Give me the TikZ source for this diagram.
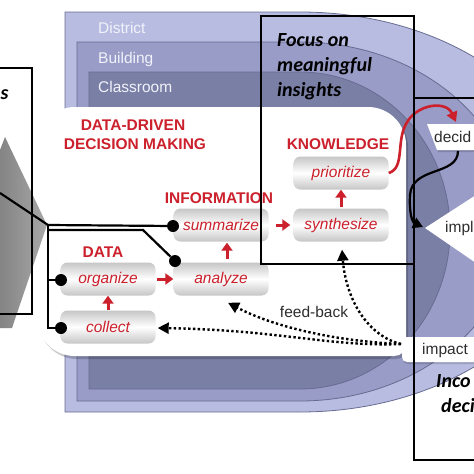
\documentclass[tikz,border=0pt]{standalone}
\usepackage{fontspec}
\setmainfont{Liberation Sans}
\newfontfamily\annotfont{Carlito}
\usetikzlibrary{arrows.meta,calc}
\definecolor{dddred}{RGB}{204,32,44}
\definecolor{district}{RGB}{184,188,224}
\definecolor{building}{RGB}{152,156,198}
\definecolor{classroom}{RGB}{122,127,165}
\definecolor{bandedge}{RGB}{104,108,146}
\definecolor{bandtext}{RGB}{242,242,250}
\definecolor{pillgray}{RGB}{198,198,198}
\definecolor{arrowdark}{RGB}{132,132,132}
\definecolor{arrowlight}{RGB}{168,168,168}
\definecolor{fbgray}{RGB}{45,45,45}
\begin{document}
\begin{tikzpicture}[x=1pt,y=-1pt,
  pill/.style={rounded corners=7pt, minimum width=95pt, minimum height=33pt,
    top color=pillgray, bottom color=pillgray, middle color=white, inner sep=0pt,
    text=dddred, font=\fontsize{15.5}{18}\selectfont\itshape},
  head/.style={text=dddred, font=\fontsize{15.5}{18}\selectfont\bfseries, inner sep=0pt, anchor=base},
  bandlabel/.style={text=bandtext, font=\fontsize{15.5}{18}\selectfont, inner sep=0pt, anchor=base west},
  boxtext/.style={text=fbgray, font=\fontsize{15.5}{18}\selectfont, inner sep=0pt, anchor=base west},
  annot/.style={font=\annotfont\fontsize{20}{25}\selectfont\bfseries\itshape, inner sep=0pt, anchor=base west},
  dot/.style={circle, fill=black, inner sep=0pt, minimum size=12pt},
  link/.style={line width=2.2pt, draw=black},
  redarr/.style={draw=dddred, line width=3pt, -{Triangle[width=11pt,length=8pt]}},
  fb/.style={draw=black, line width=2.4pt, dash pattern=on 2.4pt off 2.4pt, -{Triangle[width=11pt,length=11pt]}},
  frame/.style={draw=black, line width=1.6pt},
  band/.style={draw=bandedge, line width=0.8pt},
]
\useasboundingbox (0,0) rectangle (474,474);
\fill[white] (0,0) rectangle (474,474);
\clip (0,0) rectangle (474,474);

% nested bands
\path[band, fill=district] (65,12) -- (300,12) .. controls (452,12) and (575,101.5) .. (575,212)
  .. controls (575,322.5) and (452,412) .. (300,412) -- (65,412) -- cycle;
\path[band, fill=building] (77,42) -- (300,42) .. controls (418.7,42) and (515,122.4) .. (515,221.5)
  .. controls (515,320.6) and (418.7,401) .. (300,401) -- (77,401) -- cycle;
\path[band, fill=classroom] (89,72) -- (300,72) .. controls (382.8,72) and (450,143) .. (450,230.5)
  .. controls (450,318) and (382.8,389) .. (300,389) -- (89,389) -- cycle;
\node[bandlabel] (district) at (98,33) {District};
\node[bandlabel] (building) at (98,63) {Building};
\node[bandlabel] (classroom) at (98,92) {Classroom};

% white panel with shadow
\def\ddpanelpath{(37,145) .. controls (37,124) and (54,107) .. (75,107) -- (368,107)
  .. controls (389,107) and (406,124) .. (406,145) -- (406,344)
  .. controls (406,351) and (401,356) .. (394,356) -- (75,356)
  .. controls (54,356) and (37,339) .. (37,318) -- cycle}
\fill[black, opacity=0.2, xshift=2pt, yshift=-3pt] \ddpanelpath;
\fill[white] \ddpanelpath;

% right-hand step shapes
\fill[black, opacity=0.15, xshift=1pt, yshift=-2pt] (427,124) -- (480,124) -- (480,150) -- (437,150) -- cycle;
\fill[white] (427,124) -- (480,124) -- (480,150) -- (437,150) -- cycle;
\fill[white] (425,228) -- (476,195) -- (480,195) -- (480,263) -- (476,263) -- cycle;
\fill[black, opacity=0.15, rounded corners=5pt, xshift=1pt, yshift=-2pt] (402,337) rectangle (485,362);
\fill[white, rounded corners=5pt] (402,337) rectangle (485,362);
\node[boxtext] (decide) at (434,142) {decid};
\node[boxtext] (impl) at (445,232) {impl};
\node[boxtext] (impact) at (422,354) {impact};
\coordinate (decidein) at (456,122);
\coordinate (decideout) at (458,151);
\coordinate (implin) at (423,227);
\coordinate (impactL) at (401,344);

% headings
\node[head] (ddd1) at (133,130) {DATA-DRIVEN};
\node[head] (ddd2) at (135,149) {DECISION MAKING};
\node[head] (know) at (338,149) {KNOWLEDGE};
\node[head] (info) at (219,203) {INFORMATION};
\node[head] (data) at (103,257) {DATA};

% pills
\node[pill] (prioritize) at (341,173) {prioritize};
\node[pill] (synthesize) at (341,225) {synthesize};
\node[pill] (summarize) at (221,225) {summarize};
\node[pill] (analyze) at (221,279) {analyze};
\node[pill] (organize) at (108,279) {organize};
\node[pill] (collect) at (108,327) {collect};

% red arrows
\draw[redarr] (collect.north) -- (organize.south);
\draw[redarr, shorten <=1pt] (organize.east) -- (analyze.west);
\draw[redarr, shorten <=3pt, shorten >=1pt] ($(analyze.north)+(6,0)$) -- ($(summarize.south)+(6,0)$);
\draw[redarr, shorten <=7pt, shorten >=3pt] (summarize.east) -- (synthesize.west);
\draw[redarr, shorten <=1pt] (synthesize.north) -- (prioritize.south);

% big gray arrow at left
\shade[left color=arrowdark, right color=arrowlight] (0,150) -- (5,137) -- (47,225) -- (12,328) -- (0,328) -- cycle;

% black links with dots
\node[dot] (dsum) at (173,226) {};
\node[dot] (dana) at (175,261) {};
\node[dot] (dorg) at (61,280) {};
\node[dot] (dcol) at (61,328) {};
\coordinate (jin) at (0,193);
\coordinate (j) at (48,225);
\coordinate (j2) at (48,230);
\coordinate (bend) at (143,230);
\coordinate (vorg) at (48,280);
\coordinate (vcol) at (48,328);
\draw[link] (jin) -- (j) -- (dsum);
\draw[link] (j2) -- (bend) -- (dana);
\draw[link] (j) -- (vcol) -- (dcol);
\draw[link] (vorg) -- (dorg);

% feed-back dotted arrows
\draw[fb] (impactL) .. controls (368,336) and (346,300) .. ($(synthesize.south)+(1,8)$);
\draw[fb] (impactL) .. controls (330,341) and (270,325) .. ($(analyze.south)+(7,7)$);
\draw[fb] (impactL) .. controls (330,347) and (280,330) .. ($(collect.east)+(2,1)$);
\node[boxtext, anchor=base] (feedback) at (314,317) {feed-back};

% curved arrows on the right
\draw[draw=dddred, line width=2.6pt, -{Triangle[width=11pt,length=10pt]}]
  (prioritize.east) .. controls (405,168) and (396,142) .. (406,124)
  .. controls (416,104) and (446,100) .. (decidein);
\draw[draw=black, line width=2.2pt, -{Triangle[width=11pt,length=10pt]}]
  (decideout) .. controls (458,176) and (412,166) .. (410,195)
  .. controls (409,212) and (412,222) .. (implin);

% annotation frames and texts
\draw[frame] (-5,68) rectangle (32,314);
\draw[frame] (261,16) rectangle (414,264);
\draw[frame] (414,98) rectangle (485,460);
\node[annot] (leftnote) at (0.5,99) {s};
\node[annot] (focus1) at (277,46) {Focus on};
\node[annot] (focus2) at (277,71) {meaningful};
\node[annot] (focus3) at (277,96) {insights};
\node[annot] (inco1) at (436,387) {Inco};
\node[annot] (inco2) at (441,412) {deci};
\end{tikzpicture}
\end{document}
